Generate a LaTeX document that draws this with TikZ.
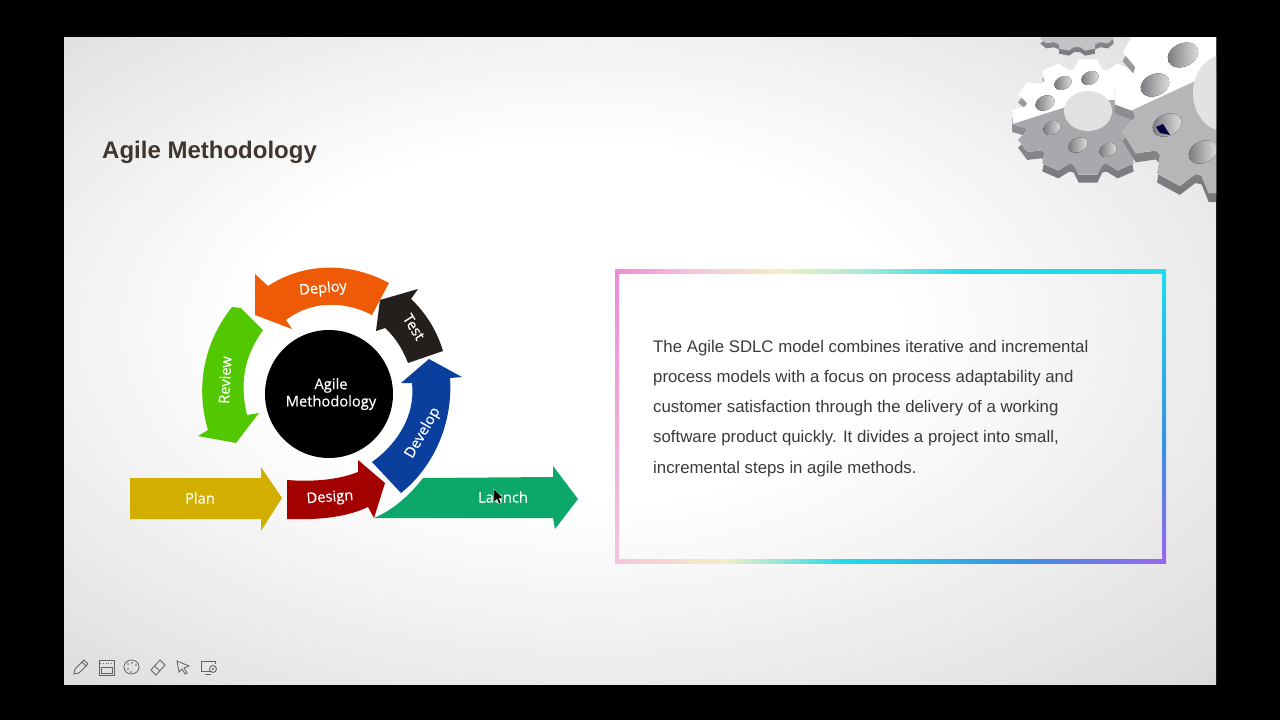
\documentclass[tikz,border=0pt]{standalone}
\usepackage{fontspec}
\setmainfont{Liberation Sans}
\newfontfamily\arrowfont[FakeBold=0.35]{Open Sans}
\usepackage{tikz}
\usetikzlibrary{positioning}
\definecolor{titlecol}{HTML}{40352F}
\definecolor{bodycol}{HTML}{3A3A3A}
\definecolor{deploycol}{HTML}{EE5A06}
\definecolor{reviewcol}{HTML}{52C800}
\definecolor{plancol}{HTML}{D2AE00}
\definecolor{designcol}{HTML}{A30000}
\definecolor{developcol}{HTML}{0A3F9E}
\definecolor{testcol}{HTML}{231F1C}
\definecolor{launchcol}{HTML}{0BA86A}
\definecolor{fpink}{HTML}{EC8CD6}
\definecolor{fpinklight}{HTML}{F5C4DE}
\definecolor{fcream}{HTML}{F3EEC4}
\definecolor{fmint}{HTML}{B0EBD5}
\definecolor{fcyan}{HTML}{1EDCEC}
\definecolor{fblue}{HTML}{3A90E0}
\definecolor{fviolet}{HTML}{9A66F0}
\definecolor{slidea}{HTML}{E8E8E8}
\definecolor{slideb}{HTML}{DCDCDC}
\definecolor{slidec}{HTML}{C6C6C6}
\definecolor{geargray}{HTML}{A9A9AD}
\definecolor{geardark}{HTML}{77777C}
\definecolor{hubgray}{HTML}{E2E2E2}
\definecolor{iconcol}{HTML}{626262}
\pgfdeclareradialshading{slideshade}{\pgfpoint{-4bp}{4bp}}{color(0bp)=(white);color(14bp)=(white);color(29bp)=(slidea);color(36bp)=(slideb);color(41bp)=(slidec);color(50bp)=(slidec)}
\pgfdeclarehorizontalshading{frametop}{100bp}{color(0bp)=(fpink);color(25bp)=(fpink);color(32bp)=(fpinklight);color(40bp)=(fcream);color(47bp)=(fmint);color(57bp)=(fcyan);color(100bp)=(fcyan)}
\pgfdeclarehorizontalshading{framebot}{100bp}{color(0bp)=(fpinklight);color(25bp)=(fpinklight);color(35bp)=(fcream);color(46bp)=(fcyan);color(62bp)=(fblue);color(75bp)=(fviolet);color(100bp)=(fviolet)}
\pgfdeclareverticalshading{frameright}{100bp}{color(0bp)=(fviolet);color(25bp)=(fviolet);color(45bp)=(fblue);color(75bp)=(fcyan);color(100bp)=(fcyan)}
\pgfdeclareverticalshading{frameleft}{100bp}{color(0bp)=(fpinklight);color(25bp)=(fpinklight);color(75bp)=(fpink);color(100bp)=(fpink)}
\newcommand{\gearpath}[5]{%
  ({#1+#3*0.84*cos(360*0/#5-13)},{#2+#4*0.84*sin(360*0/#5-13)})
  \foreach \k in {1,...,#5}{
    -- ({#1+#3*cos(360*\k/#5-7)},{#2+#4*sin(360*\k/#5-7)})
    -- ({#1+#3*cos(360*\k/#5+7)},{#2+#4*sin(360*\k/#5+7)})
    -- ({#1+#3*0.84*cos(360*\k/#5+13)},{#2+#4*0.84*sin(360*\k/#5+13)})
    -- ({#1+#3*0.84*cos(360*(\k+1)/#5-13)},{#2+#4*0.84*sin(360*(\k+1)/#5-13)})
  } -- cycle}
\tikzset{
  arrowtext/.style={text=white,font=\arrowfont\fontsize{14.7}{14.7}\selectfont,inner sep=0pt},
  bodyline/.style={text=bodycol,font=\fontsize{16.8}{16.8}\selectfont,inner sep=0pt,anchor=base west},
  gearside/.style={draw=none,top color=geargray,bottom color=geardark},
  holepart/.style={draw=none,left color=geardark,right color=hubgray},
  iconline/.style={draw=iconcol,line width=0.8pt,fill=none},
}
\begin{document}
\begin{tikzpicture}[x=1pt,y=-1pt]
    \useasboundingbox (0,0) rectangle (1280,720);
    \fill[black] (0,0) rectangle (1280,720);
    \shade[shading=slideshade] (64,37) rectangle (1216,684);
    % gears
    \begin{scope}
      \clip (64,37) rectangle (1216,684);
      % top gear
      \shade[gearside] \gearpath{1077}{32}{42}{24}{10};
      \fill[geargray!70!white] \gearpath{1077}{27}{42}{24}{10};
      % middle gear
      \shade[gearside] \gearpath{1088}{125}{76}{58}{12};
      \fill[white] \gearpath{1088}{117}{76}{58}{12};
      \begin{scope}
        \clip (1000,128) -- (1088,100) -- (1170,100) -- (1170,200) -- (1000,200) -- cycle;
        \fill[geargray] \gearpath{1088}{117}{76}{58}{12};
      \end{scope}
      % big gear
      \shade[gearside] \gearpath{1222}{101}{108}{102}{12};
      \fill[white] \gearpath{1222}{92}{108}{102}{12};
      \begin{scope}
        \clip (1100,125) -- (1230,65) -- (1230,220) -- (1100,220) -- cycle;
        \fill[geargray!85!white] \gearpath{1222}{92}{108}{102}{12};
      \end{scope}
      \foreach \hx/\hy/\hr in {1183/55/16,1155/85/15,1167/125/15,1203/152/15,1063/83/9,1090/78/9,1045/103/10,1052/128/9,1078/145/10,1108/150/9}{
        \fill[holepart,rotate around={25:(\hx,\hy)}] (\hx,\hy) ellipse ({\hr} and {\hr*0.72});
      }
      \fill[black!75!blue] (1156,127) -- (1163,124) -- (1170,135) -- (1160,133) -- cycle;
      \fill[hubgray] (1088,111) ellipse (24 and 20);
      \fill[hubgray] (1224,93) ellipse (31 and 38);
    \end{scope}
    % title
    \node[anchor=base west,inner sep=0pt,text=titlecol,font=\bfseries\fontsize{24}{24}\selectfont] (title) at (102,158) {Agile Methodology};
    % arrows
    \fill[reviewcol] (232,307) -- (241,308) -- (263,330) .. controls (243,358) and (240,385) .. (247,415) -- (259,413) -- (236,443) -- (198,436) -- (208,430) .. controls (196,390) and (202,345) .. (232,307) -- cycle;
    \fill[deploycol] (389,283) .. controls (350,262) and (305,262) .. (268,286) -- (255,274) -- (255,315) -- (292,329) -- (286,320) .. controls (312,300) and (345,301) .. (372,315) -- cycle;
    \fill[testcol] (418,289) -- (411,299) .. controls (426,313) and (437,331) .. (443,351) -- (408,363) .. controls (403,350) and (396,338) .. (385,328) -- (376,331) -- (380,300) -- cycle;
    \fill[developcol] (372,462) .. controls (392,448) and (416,420) .. (412,383) -- (401,383) -- (429,359) -- (462,377) -- (450,378) .. controls (453,420) and (436,465) .. (401,493) -- cycle;
    \fill[plancol] (130,478) -- (261,478) -- (261,467) -- (282,498) -- (261,531) -- (261,519) -- (130,519) -- cycle;
    \fill[designcol] (287,480) .. controls (312,482) and (338,480) .. (358,472) -- (358,460) -- (385,483) -- (374,518) -- (368,507) .. controls (345,518) and (315,520) .. (287,519) -- cycle;
    \fill[launchcol] (374,518) .. controls (393,510) and (410,495) .. (423,478) -- (553,477) -- (553,466) -- (578,499) -- (555,529) -- (553,518) -- cycle;
    \node[circle,fill=black,minimum size=128pt,inner sep=0pt] (hub) at (329,394) {};
    % labels
    \node[arrowtext,align=center] (hublabel) at (331,394) {Agile\\[2.5pt]Methodology};
    \node[arrowtext,rotate=5] (deploy) at (323,289) {Deploy};
    \node[arrowtext,rotate=87] (review) at (225,380) {Review};
    \node[arrowtext,rotate=-58] (test) at (414,327) {Test};
    \node[arrowtext,rotate=60] (develop) at (423,433) {Develop};
    \node[arrowtext] (plan) at (200,498) {Plan};
    \node[arrowtext,rotate=4] (design) at (330,498) {Design};
    \node[arrowtext] (launch) at (503,497) {Launch};
    % pointer
    \fill[black,draw=white,line width=0.3pt] (494,489) -- (494,502) -- (497,499) -- (499,504) -- (501,503) -- (499,498) -- (503,498) -- cycle;
    % frame
    \shade[shading=frametop] (615,269) rectangle (1165,273);
    \shade[shading=framebot] (615,559) rectangle (1165,563);
    \shade[shading=frameleft] (615,269) rectangle (619,563);
    \shade[shading=frameright] (1162,269) rectangle (1166,563);
    % body text
    \node[bodyline] (line1) at (653,352) {The Agile SDLC model combines iterative and incremental};
    \node[bodyline] (line2) at (653,382.2) {process models with a focus on process adaptability and};
    \node[bodyline] (line3) at (653,412.5) {customer satisfaction through the delivery of a working};
    \node[bodyline] (line4) at (653,442.7) {software product quickly. It divides a project into small,};
    \node[bodyline] (line5) at (653,473) {incremental steps in agile methods.};
    % toolbar
    \draw[iconline] (74,674) -- (75,669) -- (84,660) -- (88,664) -- (79,673) -- cycle;
    \draw[iconline] (82,662) -- (86,666);
    \draw[iconline] (99,660) rectangle (114,675);
    \draw[iconline] (101,667) rectangle (112,673);
    \draw[iconline,dotted] (100,663) -- (113,663);
    \draw[iconline] (131.5,667) ellipse (7.5 and 7);
    \foreach \dx/\dy in {128/664,132/663,136/665,128/669,131/672}{
      \fill[iconcol] (\dx,\dy) circle (0.9);
    }
    \draw[iconline] (151,670) -- (160,660) -- (165,665) -- (156,675) -- cycle;
    \draw[iconline] (154.5,666) -- (160,671);
    \draw[iconline] (177,661) -- (189,666) -- (184,668) -- (187,673) -- (185,674) -- (182,669) -- (179,672) -- cycle;
    \draw[iconline] (212,671) -- (201,671) -- (201,661) -- (215,661) -- (215,664);
    \draw[iconline] (205,674) -- (211,674);
    \draw[iconline] (213,669) circle (3.5);
    \fill[iconcol] (213,669) circle (1.2);
\end{tikzpicture}
\end{document}
